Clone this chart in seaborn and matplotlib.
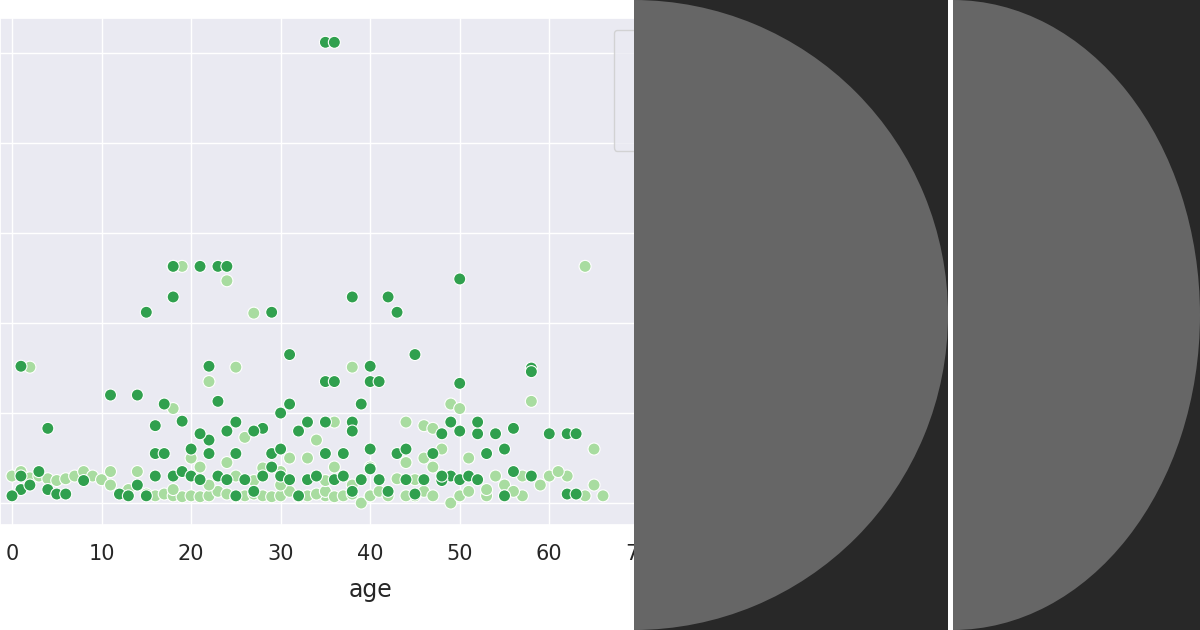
import seaborn as sns
import matplotlib.pyplot as plt
import pandas as pd

# passengers who survived (dark green)
age_1 = [35, 36, 18, 21, 23, 24, 18, 50, 15, 29, 38, 42, 43, 1, 22, 40, 31, 45, 35, 36, 40, 41, 50,
         11, 14, 23, 39, 58, 58, 17, 16, 19, 4, 28, 30, 31, 33, 35, 38, 38, 25, 27, 24, 22, 21, 20,
         25, 29, 32, 40, 43, 47, 48, 49, 50, 52, 52, 54, 56, 60, 62, 63, 55, 53, 49, 56, 58, 48, 45,
         62, 63, 1, 1, 0, 2, 3, 4, 5, 6, 8, 12, 13, 15, 14, 16, 16, 18, 17, 19, 20, 21, 22, 23, 24,
         25, 26, 27, 28, 30, 31, 32, 33, 34, 35, 36, 37, 38, 39, 40, 41, 42, 44, 46, 48, 50, 51, 52,
         55, 29, 30, 37, 44]
fare_1 = [512, 512, 263, 263, 263, 263, 229, 249, 212, 212, 229, 229, 212, 152, 152, 152, 165, 165,
          135, 135, 135, 135, 133, 120, 120, 113, 110, 150, 146, 110, 86, 91, 83, 83, 100, 110, 90,
          90, 90, 80, 90, 80, 80, 70, 77, 60, 55, 55, 80, 60, 55, 55, 77, 90, 80, 77, 90, 77, 83, 77,
          77, 77, 60, 55, 30, 35, 30, 25, 10, 10, 10, 30, 15, 8, 20, 35, 15, 10, 10, 25, 10, 8, 8, 20,
          30, 55, 30, 55, 35, 30, 26, 55, 30, 26, 8, 26, 13, 30, 30, 26, 8, 26, 30, 55, 26, 30, 13,
          26, 38, 26, 13, 26, 26, 30, 26, 30, 26, 8, 40, 60, 55, 60]

# passengers who did not survive (light green)
age_0 = [64, 18, 19, 24, 27, 2, 22, 25, 38, 58, 49, 50, 44, 46, 47, 18, 36, 65, 55, 60, 62, 64, 65,
         57, 40, 45, 35, 0, 1, 2, 3, 4, 5, 6, 7, 8, 9, 10, 11, 11, 13, 14, 15, 16, 17, 18, 19, 20,
         21, 22, 23, 24, 25, 26, 27, 28, 29, 30, 31, 32, 33, 34, 35, 36, 37, 38, 39, 40, 41, 42, 43,
         44, 45, 46, 47, 48, 49, 50, 51, 52, 53, 54, 55, 56, 57, 59, 61, 66, 20, 24, 28, 30, 33, 36,
         40, 46, 48, 51, 34, 26, 22, 30, 38, 44, 18, 21, 25, 27, 31, 35, 47, 53]
fare_0 = [263, 263, 263, 247, 211, 151, 135, 151, 151, 113, 110, 105, 90, 86, 83, 105, 90, 60, 20,
          30, 30, 8, 20, 8, 8, 8, 8, 30, 35, 28, 30, 27, 25, 27, 30, 35, 30, 26, 35, 20, 15, 35, 10,
          8, 10, 8, 7, 8, 7, 8, 13, 10, 7, 8, 10, 8, 7, 8, 13, 7, 8, 10, 13, 7, 8, 10, 0, 8, 13, 8,
          27, 8, 26, 13, 8, 30, 0, 8, 13, 26, 8, 30, 8, 13, 30, 20, 35, 8, 50, 45, 39, 35, 50, 40, 40,
          50, 60, 50, 70, 73, 20, 20, 20, 45, 15, 40, 30, 25, 50, 25, 40, 15]

df = pd.DataFrame({
    'age': age_0 + age_1,
    'fare': fare_0 + fare_1,
    'survived': [0] * len(age_0) + [1] * len(age_1),
})

sns.set_theme(style='darkgrid')
fig = plt.figure(figsize=(12, 6.3), dpi=100)

ax = fig.add_axes([0, 105 / 630, 740 / 1200, 507 / 630])
sns.scatterplot(data=df, x='age', y='fare', hue='survived', s=75, ax=ax,
                palette={0: '#a8dca0', 1: '#30a04e'}, edgecolor='white', linewidth=0.8)
ax.set_xlim(-1.34, 81.3)
ax.set_ylim(-24.4, 539)
ax.set_xticks([0, 10, 20, 30, 40, 50, 60, 70, 80])
ax.tick_params(axis='x', labelsize=15, pad=8)
ax.set_yticklabels([])
ax.set_ylabel('')
ax.set_xlabel('age', fontsize=17, labelpad=10)
ax.legend(loc='upper left', bbox_to_anchor=(614 / 740, (525 - 30) / 507), borderaxespad=0,
          title='survived', fontsize=12, title_fontsize=12, borderpad=1.5)

# two dark panels with grey pies on top of the scatter
panels = [(634, 314), (953, 247)]
for left, width in panels:
    pax = fig.add_axes([left / 1200, 0, width / 1200, 1])
    wedges, _ = pax.pie([1], colors=['#666666'], radius=1, center=(0, 0), startangle=90,
                        wedgeprops={'linewidth': 0})
    for w in wedges:
        w.set_clip_on(True)
    pax.set_aspect('auto')
    pax.set_frame_on(True)
    pax.set_facecolor('#282828')
    for s in pax.spines.values():
        s.set_visible(False)
    pax.set_xlim(0, 1.0)
    pax.set_ylim(-1.0, 1.0)
    pax.set_zorder(5)

fig.savefig('out.png', dpi=100)
